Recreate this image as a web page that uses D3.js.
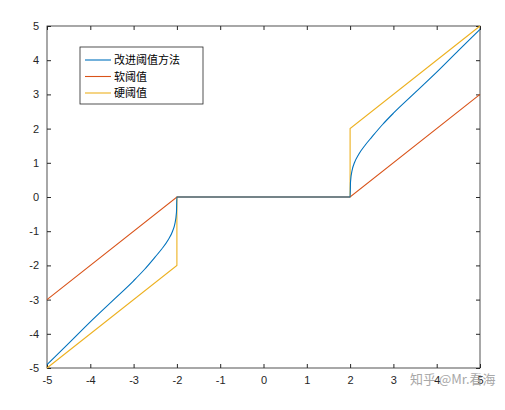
<!DOCTYPE html><html><head><meta charset="utf-8">
<script src="https://cdn.jsdelivr.net/npm/d3@7"></script>
<style>body{margin:0;background:#fff}</style></head><body><svg id="c" width="505" height="410"></svg>
<script>
const xTicks=[-5,-4,-3,-2,-1,0,1,2,3,4,5];
const yTicks=[-5,-4,-3,-2,-1,0,1,2,3,4,5];
const seriesNames=["改进阈值方法","软阈值","硬阈值"];
const colors=["#0072BD","#D95319","#EDB120"];
const improvedX=[-5,-4.5,-4,-3.5,-3,-2.75,-2.5,-2.35,-2.2,-2.1,-2.05,-2.01,-2,2,2.01,2.05,2.1,2.2,2.35,2.5,2.75,3,3.5,4,4.5,5];
const improvedY=[-4.9,-4.28,-3.65,-3.05,-2.45,-2.12,-1.75,-1.52,-1.25,-1.0,-0.8,-0.45,0,0,0.45,0.8,1.0,1.25,1.52,1.75,2.12,2.45,3.05,3.65,4.28,4.9];
const softX=[-5,-2,2,5];
const softY=[-3,0,0,3];
const hardX=[-5,-2,-2,2,2,5];
const hardY=[-5,-2,0,0,2,5];
const svg=d3.select("#c");
const L=47,R=480,T=26,B=368;
const x=d3.scaleLinear().domain([-5,5]).range([L,R]);
const y=d3.scaleLinear().domain([-5,5]).range([B,T]);
const f="Liberation Sans, Arial, sans-serif";
const fmt=d=>String(d);
svg.append("rect").attr("x",L).attr("y",T).attr("width",R-L).attr("height",B-T).attr("fill","#fff").attr("stroke","#262626").attr("stroke-width",0.8);
svg.append("g").attr("transform",`translate(0,${B})`).call(d3.axisBottom(x).tickValues(xTicks).tickSize(-4).tickPadding(8).tickFormat(fmt));
svg.append("g").attr("transform",`translate(${L},0)`).call(d3.axisLeft(y).tickValues(yTicks).tickSize(-4).tickPadding(8).tickFormat(fmt));
svg.append("g").attr("transform",`translate(0,${T})`).call(d3.axisTop(x).tickValues(xTicks).tickSize(-4).tickFormat(""));
svg.append("g").attr("transform",`translate(${R},0)`).call(d3.axisRight(y).tickValues(yTicks).tickSize(-4).tickFormat(""));
svg.selectAll(".domain").remove();
svg.selectAll(".tick line").attr("stroke","#262626");
svg.selectAll(".tick text").attr("font-family",f).attr("font-size",11).attr("fill","#262626");
const line=d3.line().x(d=>x(d[0])).y(d=>y(d[1]));
const smooth=d3.line().x(d=>x(d[0])).y(d=>y(d[1])).curve(d3.curveMonotoneX);
const data=[d3.zip(improvedX,improvedY),d3.zip(softX,softY),d3.zip(hardX,hardY)];
[2,1].forEach(i=>svg.append("path").attr("d",line(data[i])).attr("fill","none").attr("stroke",colors[i]).attr("stroke-width",1.1));
svg.append("path").attr("d",smooth(data[0])).attr("fill","none").attr("stroke",colors[0]).attr("stroke-width",1.1);
const lg=svg.append("g");
lg.append("rect").attr("x",80).attr("y",47).attr("width",123).attr("height",57).attr("fill","#fff").attr("stroke","#262626").attr("stroke-width",0.8);
seriesNames.forEach((n,i)=>{const yy=60+i*16.5;
lg.append("line").attr("x1",85).attr("x2",111).attr("y1",yy).attr("y2",yy).attr("stroke",colors[i]).attr("stroke-width",1.1);
lg.append("text").attr("x",114).attr("y",yy+4).attr("font-family","Noto Sans CJK SC").attr("font-size",11).attr("fill","#000").text(n);});
svg.append("text").attr("x",410).attr("y",384).attr("font-family","Noto Sans CJK SC").attr("font-size",13).attr("fill","#999").attr("opacity",0.85).text("知乎 @Mr.看海");
</script></body></html>
